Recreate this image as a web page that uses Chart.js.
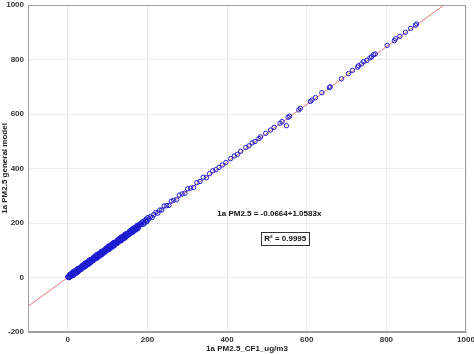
<!DOCTYPE html>
<html><head><meta charset="utf-8">
<script src="https://cdn.jsdelivr.net/npm/chart.js@4"></script>
<style>html,body{margin:0;padding:0;background:#fff}#wrap{width:474px;height:354px}</style>
</head><body><div id="wrap"><canvas id="c" width="474" height="354"></canvas></div>
<script>
// Observed measurements (x: 1a PM2.5_CF1_ug/m3, y: 1a PM2.5 general model)
const obsX = [
0,3,6,9,12,15,18,21,24,27,30,33,36,39,42,45,48,51,54,57,60,63,66,69,72,75,78,81,84,87,90,93,96,99,102,105,108,111,114,117,120,123,126,129,132,135,138,141,144,147,150,153,156,159,162,165,168,171,174,177,180,
1.5,4.5,7.5,10.5,13.5,16.5,19.5,22.5,25.5,28.5,31.5,34.5,37.5,40.5,43.5,46.5,49.5,52.5,55.5,58.5,61.5,64.5,67.5,70.5,73.5,76.5,79.5,82.5,85.5,88.5,91.5,94.5,97.5,100.5,103.5,106.5,109.5,112.5,115.5,118.5,121.5,124.5,127.5,130.5,133.5,136.5,139.5,142.5,145.5,148.5,151.5,154.5,157.5,160.5,163.5,166.5,169.5,172.5,175.5,178.5,
0.75,3.75,6.75,9.75,12.75,15.75,18.75,21.75,24.75,27.75,30.75,33.75,36.75,39.75,42.75,45.75,48.75,51.75,54.75,57.75,60.75,63.75,66.75,69.75,72.75,75.75,78.75,81.75,84.75,87.75,90.75,93.75,96.75,99.75,102.75,105.75,108.75,111.75,114.75,117.75,120.75,123.75,126.75,129.75,132.75,135.75,138.75,141.75,144.75,147.75,150.75,153.75,156.75,159.75,162.75,165.75,168.75,171.75,174.75,177.75,
2.25,5.25,8.25,11.25,14.25,17.25,20.25,23.25,26.25,29.25,32.25,35.25,38.25,41.25,44.25,47.25,50.25,53.25,56.25,59.25,62.25,65.25,68.25,71.25,74.25,77.25,80.25,83.25,86.25,89.25,92.25,95.25,98.25,101.25,104.25,107.25,110.25,113.25,116.25,119.25,122.25,125.25,128.25,131.25,134.25,137.25,140.25,143.25,146.25,149.25,152.25,155.25,158.25,161.25,164.25,167.25,170.25,173.25,176.25,179.25,
183,184.5,186,189,190.5,192,195,196.5,198,199.5,201,204,208,212,216,221,226,231,236,242,248,254,260,266,273,280,287,294,301,308,316,324,332,340,348,356,364,372,
380,388,397,409,418,426,434,447,455,463,470,480,484,497,509,518,533,538,549,553,557,580,584,609,613,622,
638,657,659,687,705,715,728,730,738,743,751,759,763,768,772,802,820,823,834,848,861,873,876
];
const obsY = [
3,-0.8,12.3,7.5,17.7,9.9,20.0,19.2,32.4,23.6,34.7,30.9,44.1,39.3,49.4,41.6,51.8,51.0,64.1,55.3,66.5,62.7,75.8,71.0,81.2,73.4,83.5,82.7,95.9,87.1,98.2,94.4,107.6,102.8,112.9,105.1,115.3,114.5,127.6,118.8,130.0,126.2,139.3,134.5,144.7,136.9,147.0,146.2,159.4,150.6,161.7,157.9,171.1,166.3,176.4,168.6,178.8,178.0,191.1,182.3,193.5,
0.6,8.8,6.9,17.1,7.3,19.5,17.6,28.8,21.0,33.2,28.3,40.5,38.7,48.9,39.0,51.2,49.4,60.6,52.7,64.9,60.1,72.3,70.4,80.6,70.8,83.0,81.1,92.3,84.5,96.7,91.8,104.0,102.2,112.4,102.5,114.7,112.9,124.1,116.2,128.4,123.6,135.8,133.9,144.1,134.3,146.5,144.6,155.8,148.0,160.2,155.3,167.5,165.7,175.9,166.0,178.2,176.4,187.6,179.7,191.9,
1.8,0.9,11.1,8.3,20.5,12.7,21.8,16.0,31.2,29.4,33.5,29.7,42.9,40.1,52.2,44.4,53.6,47.8,62.9,61.1,65.3,61.5,74.6,71.8,84.0,76.2,85.3,79.5,94.7,92.9,97.0,93.2,106.4,103.6,115.7,107.9,117.1,111.3,126.4,124.6,128.8,125.0,138.1,135.3,147.5,139.7,148.8,143.0,158.2,156.4,160.5,156.7,169.9,167.1,179.2,171.4,180.6,174.8,189.9,188.1,
0.4,10.6,3.7,14.9,14.1,24.3,17.4,25.6,21.8,35.0,32.1,42.3,35.5,46.7,45.8,56.0,49.2,57.4,53.5,66.7,63.9,74.1,67.2,78.4,77.6,87.8,80.9,89.1,85.3,98.5,95.6,105.8,99.0,110.2,109.3,119.5,112.7,120.9,117.0,130.2,127.4,137.6,130.7,141.9,141.1,151.3,144.4,152.6,148.8,162.0,159.1,169.3,162.5,173.7,172.8,183.0,176.2,184.4,180.5,193.7,
197.7,200.3,193.8,206.0,195.6,201.2,209.4,214.0,204.5,208.1,219.7,214.9,224.1,220.4,230.6,238.9,236.2,247.5,247.8,262.1,263.5,264.8,280.2,283.5,285.9,302.3,306.7,309.1,325.5,328.0,330.4,347.9,352.4,367.8,366.3,380.8,391.2,395.7,
404,413,422,436,446,452,463,477,483,494,499,510,516,529,541,551,566,572,557,588,592,615,621,646,651,660,
678,697,700,729,748,760,772,777,784,792,797,806,810,818,820,852,869,876,885,900,914,926,930
];
// Fit reported on the chart
const fitIntercept = -0.0664;
const fitSlope = 1.0583;
const fitRange = [-100, 945];
const xTickLabels = [0, 200, 400, 600, 800, 1000];
const yTickLabels = [-200, 0, 200, 400, 600, 800, 1000];
const eqText = '1a PM2.5 = -0.0664+1.0583x';
const r2Text = 'R\u00B2 = 0.9995';

const scatterPts = obsX.map((x, i) => ({x: x, y: obsY[i]}));
const fitPts = fitRange.map(x => ({x: x, y: fitIntercept + fitSlope * x}));

const FONT = 'Arial, "Liberation Sans", sans-serif';

const decor = {
  id: 'decor',
  afterDraw(chart) {
    const {ctx, chartArea: a, scales} = chart;
    ctx.save();
    ctx.strokeStyle = '#a0a0a0';
    ctx.lineWidth = 1;
    ctx.strokeRect(a.left + 0.5, a.top + 0.5, a.right - a.left - 1, a.bottom - a.top - 1);
    ctx.fillStyle = '#111';
    ctx.font = 'bold 8px ' + FONT;
    ctx.textAlign = 'center';
    ctx.textBaseline = 'middle';
    const ex = scales.x.getPixelForValue(506), ey = scales.y.getPixelForValue(234);
    ctx.fillText(eqText, ex, ey);
    const rx = scales.x.getPixelForValue(546), ry = scales.y.getPixelForValue(144);
    const w = Math.round(ctx.measureText(r2Text).width + 6), h = 13;
    const bx = Math.round(rx - w / 2), by = Math.round(ry - h / 2);
    ctx.fillStyle = '#fff';
    ctx.fillRect(bx, by, w, h);
    ctx.strokeStyle = '#333';
    ctx.strokeRect(bx + 0.5, by + 0.5, w, h);
    ctx.fillStyle = '#111';
    ctx.fillText(r2Text, rx, ry + 1);
    ctx.restore();
  }
};

new Chart(document.getElementById('c'), {
  type: 'scatter',
  data: {
    datasets: [
      {
        type: 'line', data: fitPts, borderColor: '#e07878', borderWidth: 1,
        pointRadius: 0, fill: false, order: 2
      },
      {
        data: scatterPts, borderColor: '#1c1cd0', backgroundColor: 'rgba(0,0,0,0)',
        borderWidth: 1, pointRadius: 2.2, order: 1
      }
    ]
  },
  options: {
    responsive: false, animation: false, devicePixelRatio: 1,
    layout: {padding: {top: 3, right: 8, left: 0, bottom: 0}},
    plugins: {legend: {display: false}, tooltip: {enabled: false}},
    scales: {
      x: {
        type: 'linear', min: -100, max: 1000,
        afterBuildTicks: s => { s.ticks = xTickLabels.map(v => ({value: v})); },
        afterFit: s => { s.height = 22; s.paddingLeft = 0; s.paddingRight = 0; },
        grid: {color: '#ececec', drawTicks: false},
        border: {color: '#a0a0a0'},
        ticks: {color: '#333', font: {family: FONT, size: 8, weight: 'bold'}, padding: 3, maxRotation: 0, callback: v => String(v)},
        title: {display: true, text: '1a PM2.5_CF1_ug/m3', color: '#222', font: {family: FONT, size: 8, weight: 'bold'}, padding: {top: 0, bottom: 0}}
      },
      y: {
        type: 'linear', min: -200, max: 1000,
        afterBuildTicks: s => { s.ticks = yTickLabels.map(v => ({value: v})); },
        afterFit: s => { s.width = 28; s.paddingTop = 0; s.paddingBottom = 0; },
        grid: {color: '#ececec', drawTicks: false},
        border: {color: '#a0a0a0'},
        ticks: {color: '#333', font: {family: FONT, size: 8, weight: 'bold'}, padding: 4, callback: v => String(v)},
        title: {display: true, text: '1a PM2.5 general model', color: '#222', font: {family: FONT, size: 8, weight: 'bold'}, padding: {top: 0, bottom: 0}}
      }
    }
  },
  plugins: [decor]
});
</script>
</body></html>
